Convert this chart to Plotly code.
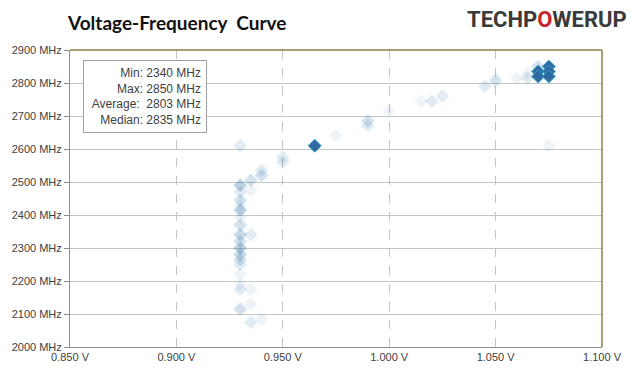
import plotly.graph_objects as go

# Data: voltage (V), frequency (MHz), number of samples at that point
volts = [0.930, 0.930, 0.930, 0.930, 0.930, 0.930, 0.930, 0.930, 0.930, 0.930,
         0.930, 0.930, 0.930, 0.930, 0.930, 0.930, 0.930, 0.930,
         0.935, 0.935, 0.935, 0.935, 0.935, 0.935,
         0.940, 0.940, 0.940,
         0.950, 0.950,
         0.965,
         0.975,
         0.990, 0.990,
         1.000,
         1.015, 1.020, 1.025,
         1.045,
         1.050, 1.050,
         1.060,
         1.065, 1.065,
         1.070, 1.070, 1.070,
         1.075, 1.075, 1.075, 1.075]
freqs = [2610, 2490, 2470, 2445, 2430, 2415, 2395, 2370, 2340, 2320,
         2300, 2280, 2265, 2250, 2220, 2190, 2175, 2115,
         2505, 2475, 2340, 2175, 2130, 2075,
         2535, 2520, 2085,
         2575, 2560,
         2610,
         2640,
         2685, 2670,
         2715,
         2745, 2745, 2760,
         2790,
         2805, 2815,
         2815,
         2815, 2830,
         2850, 2835, 2820,
         2850, 2835, 2820, 2610]
counts = [2, 5, 2, 3, 1, 5, 1, 3, 4, 3,
          5, 4, 3, 2, 1, 1, 2, 3,
          3, 1, 2, 1, 1, 2,
          2, 3, 1,
          2, 2,
          60,
          1,
          3, 2,
          1,
          1, 2, 2,
          2,
          2, 1,
          1,
          2, 1,
          3, 50, 50,
          50, 50, 50, 1]

stats_text = ("Min: 2340 MHz<br>Max: 2850 MHz<br>"
              "Average:  2803 MHz<br>Median: 2835 MHz")

x_ticks = [0.85, 0.90, 0.95, 1.00, 1.05, 1.10]
y_ticks = list(range(2000, 2901, 100))

per_sample = 0.07
opac = [min(1.0, 1 - (1 - per_sample) ** c) for c in counts]

fig = go.Figure()
fig.add_trace(go.Scatter(
    x=volts, y=freqs, mode="markers",
    marker=dict(symbol="diamond", size=10, color="#2f67a0",
                opacity=opac,
                line=dict(color="#2aa7d0", width=1)),
    hoverinfo="x+y", showlegend=False,
))

grid = "#c4c4c4"
olive = "#8c8049"
fig.update_layout(
    width=634, height=378,
    margin=dict(l=69, r=27, t=50, b=31),
    paper_bgcolor="white", plot_bgcolor="white",
    font=dict(family="Liberation Sans, Arial, sans-serif", size=11, color="#404040"),
    xaxis=dict(range=[0.85, 1.10], tickvals=x_ticks,
               ticktext=[f"{v:.3f} V" for v in x_ticks],
               showgrid=True, gridcolor=grid, griddash="dash", gridwidth=1,
               showline=True, linecolor="#8c8c8c", linewidth=1,
               zeroline=False, ticks="", fixedrange=True),
    yaxis=dict(range=[2000, 2900], tickvals=y_ticks,
               ticktext=[f"{v} MHz" for v in y_ticks],
               showgrid=True, gridcolor=grid, gridwidth=1,
               showline=True, linecolor="#8c8c8c", linewidth=1,
               zeroline=False, ticks="outside", ticklen=5, tickcolor="#8c8c8c",
               fixedrange=True),
    shapes=[
        dict(type="line", xref="paper", yref="paper", x0=0, x1=1, y0=1, y1=1,
             line=dict(color=olive, width=1.5)),
        dict(type="line", xref="paper", yref="paper", x0=1, x1=1, y0=0, y1=1,
             line=dict(color=olive, width=1.5)),
    ],
    annotations=[
        dict(text="<b>Voltage-Frequency  Curve</b>", xref="paper", yref="paper",
             x=-0.01, y=1.0, yshift=28, xanchor="left", yanchor="middle",
             showarrow=False,
             font=dict(family="Lato, Liberation Sans, sans-serif", size=19, color="#111111")),
        dict(text=("<b>TECHP<span style='color:#c9252b'>O</span>WERUP</b>"),
             xref="paper", yref="paper", x=1.05, y=1.0, yshift=31,
             xanchor="right", yanchor="middle", showarrow=False,
             font=dict(family="Roboto, Liberation Sans, sans-serif", size=22, color="#3a3a3a")),
        dict(text=stats_text, xref="paper", yref="paper",
             x=0.024, y=0.966, xanchor="left", yanchor="top", showarrow=False,
             align="right", width=112, borderpad=5,
             bordercolor="#a0a0a0", borderwidth=1, bgcolor="white",
             font=dict(family="Liberation Sans, Arial, sans-serif", size=12, color="#404040")),
    ],
)

fig.write_html("out.html", config={"displayModeBar": False},
               post_script="document.body.style.margin='0';document.body.style.overflow='hidden';")
